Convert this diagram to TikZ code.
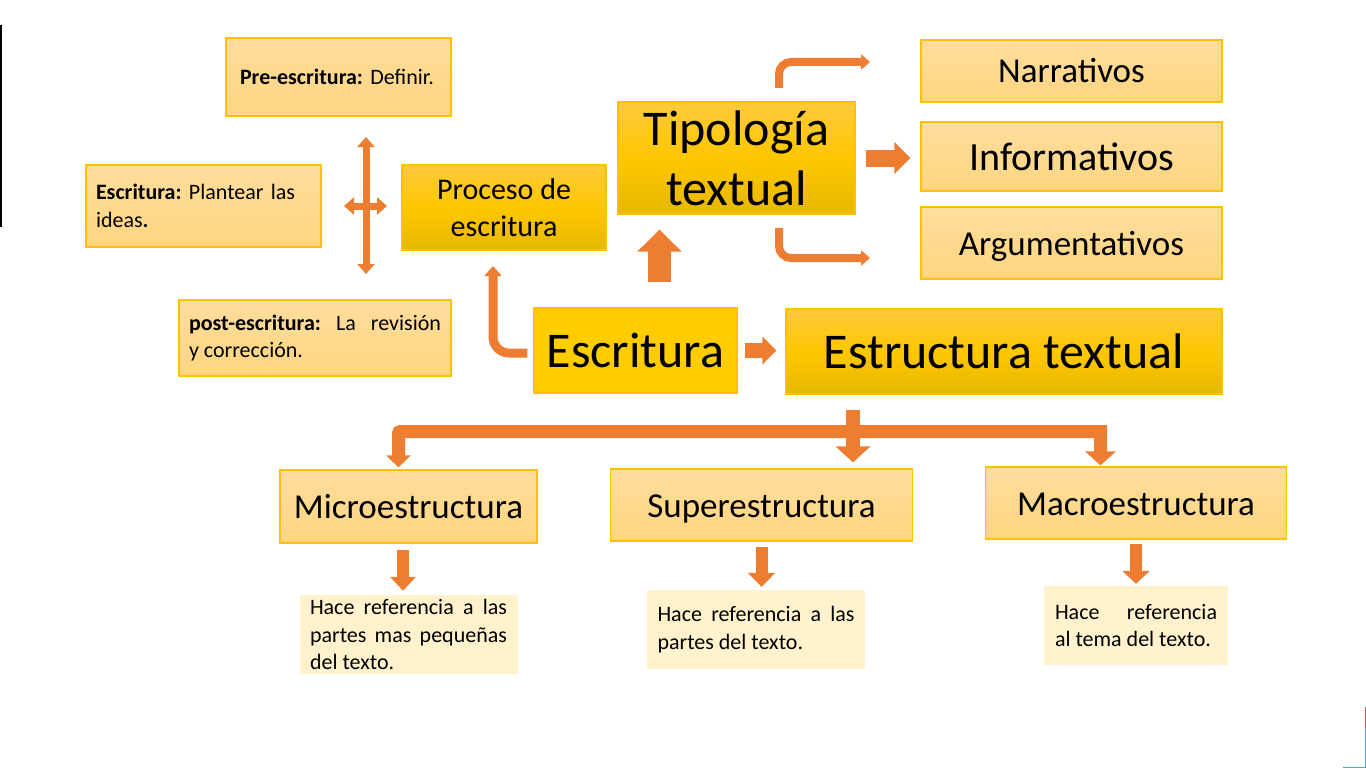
\documentclass[tikz,border=0pt]{standalone}
\usepackage{fontspec}
\setmainfont{Carlito}
\usetikzlibrary{arrows.meta}

\definecolor{naranja}{HTML}{ED7D31}
\definecolor{oro}{HTML}{FFC000}
\definecolor{claroA}{HTML}{FFDD9E}
\definecolor{claroB}{HTML}{FFD57F}
\definecolor{fuerteA}{HTML}{FFC93D}
\definecolor{fuerteB}{HTML}{FFC700}
\definecolor{fuerteC}{HTML}{E6B800}
\definecolor{amarillo}{HTML}{FFCC00}
\definecolor{crema}{HTML}{FFF2CC}
\definecolor{turquesa}{HTML}{4BACC6}
\definecolor{rojizo}{HTML}{C0504D}

\frenchspacing
\newcommand\tnota{\fontsize{22pt}{27.7pt}\selectfont\frenchspacing}
\newcommand\tproceso{\fontsize{30pt}{37pt}\selectfont}
\newcommand\tcaja{\fontsize{35pt}{40pt}\selectfont}
\newcommand\tinfo{\fontsize{40pt}{46pt}\selectfont}
\newcommand\tgrande{\fontsize{50pt}{60pt}\selectfont}

\begin{document}
\begin{tikzpicture}[x=1pt,y=-1pt,
  claro/.style={draw=oro,line width=1.2pt,top color=claroA,bottom color=claroB,inner sep=0pt},
  fuerte/.style={draw=oro,line width=1.2pt,top color=fuerteA,bottom color=fuerteC,middle color=fuerteB,inner sep=0pt},
  caja/.style={font=\tcaja,text height=28pt,text depth=4pt},
  grande/.style={font=\tgrande,text height=40pt,text depth=6pt},
  nota/.style={fill=crema,inner sep=0pt,font=\tnota,align=justify},
  bloque/.style n args={3}{draw=naranja,line width=#1,-{Triangle[length=#2,width=#3]}},
  curva/.style={draw=naranja,line width=8pt,rounded corners=12pt,-{Triangle[length=9pt,width=15pt]}},
  doble/.style={draw=naranja,line width=7pt,{Triangle[length=10pt,width=17pt]}-{Triangle[length=10pt,width=17pt]}}]
  \useasboundingbox (0,0) rectangle (1366,768);

  % bordes de la captura
  \draw[line width=2pt] (1,25) -- (1,227);
  \draw[rojizo,line width=1pt] (1365,707) -- (1365,728);
  \draw[turquesa,line width=1pt] (1365,728) -- (1365,767.5) -- (1343,767.5);

  % proceso de escritura
  \node[claro,minimum width=225pt,minimum height=78pt,inner xsep=14pt,text width=197pt,align=left,font=\tnota] (pre) at (338.5,77) {\textbf{Pre-escritura:} Definir.};
  \node[claro,minimum width=235pt,minimum height=82pt,inner xsep=10pt,text width=215pt,align=left,font=\tnota] (escl) at (203.5,206) {\textbf{Escritura:} Plantear las\\ ideas\textbf{.}};
  \node[claro,minimum width=272pt,minimum height=76pt,inner xsep=10pt,text width=252pt,align=justify,font=\tnota] (post) at (315,338) {\textbf{post-escritura:} La revisión\linebreak y corrección.};
  \node[fuerte,minimum width=204pt,minimum height=85pt,align=center,font=\tproceso] (proceso) at (504,207.5) {Proceso de\\ escritura};

  \coordinate (cruzN) at (366,137);
  \coordinate (cruzS) at (366,274);
  \coordinate (cruzO) at (344,206);
  \coordinate (cruzE) at (387,206);
  \draw[doble] (cruzN) -- (cruzS);
  \draw[doble] (cruzO) -- (cruzE);

  % tipologia
  \node[fuerte,minimum width=237pt,minimum height=112pt,align=center,font=\tgrande] (tipo) at (736.5,158) {Tipología\\ textual};
  \node[claro,caja,minimum width=301pt,minimum height=62pt] (narr) at (1071.5,71) {Narrativos};
  \node[claro,minimum width=301pt,minimum height=69pt,font=\tinfo,text height=32pt,text depth=5pt] (info) at (1071.5,156.5) {Informativos};
  \node[claro,caja,minimum width=301pt,minimum height=72pt] (argu) at (1071.5,243) {Argumentativos};

  \coordinate (tiposup) at (779,88);
  \coordinate (narrin) at (870,62);
  \coordinate (tipoinf) at (779,228);
  \coordinate (arguin) at (870,258);
  \draw[curva] (tiposup) |- (narrin);
  \draw[curva] (tipoinf) |- (arguin);
  \draw[bloque={17pt}{16pt}{31pt},shorten <=10pt,shorten >=10pt] (tipo.east) -- (tipo.east -| info.west);

  % escritura
  \node[draw=oro,line width=1.2pt,fill=amarillo,grande,minimum width=203pt,minimum height=85pt] (escr) at (635.5,350.5) {Escritura};
  \node[fuerte,grande,minimum width=436pt,minimum height=85pt] (estr) at (1004,351.5) {Estructura textual};

  \coordinate (procin) at (493,266);
  \draw[draw=naranja,line width=9pt,rounded corners=16pt,-{Triangle[length=10pt,width=17pt]}] ([xshift=-6pt,yshift=-2.5pt]escr.west) -| (procin);
  \coordinate (subeA) at (659.5,282);
  \draw[bloque={23pt}{22pt}{43pt},shorten >=15pt] (subeA) -- (subeA |- tipo.south);
  \draw[bloque={15pt}{14pt}{27pt},shorten <=7pt,shorten >=9pt] (escr.east) -- (escr.east -| estr.west);

  % estructuras
  \node[claro,caja,minimum width=257pt,minimum height=73pt] (micro) at (408.5,506.5) {Microestructura};
  \node[claro,caja,minimum width=302pt,minimum height=72pt] (super) at (761.5,505) {Superestructura};
  \node[claro,caja,minimum width=301pt,minimum height=72pt] (macro) at (1136,503) {Macroestructura};

  \coordinate (izq) at (398.5,431.5);
  \coordinate (der) at (1107,431.5);
  \coordinate (derbaja) at (1100.5,425);
  \coordinate (centro) at (853,410);
  \draw[bloque={13pt}{12pt}{24pt},rounded corners=2pt,shorten >=2pt] (der) -- (izq) -- (izq |- micro.north);
  \draw[bloque={13pt}{14pt}{30pt},shorten >=1pt] (derbaja) -- (derbaja |- macro.north);
  \draw[bloque={14pt}{16pt}{34pt},shorten >=6pt] (centro) -- (centro |- super.north);

  % notas
  \node[nota,minimum width=218pt,minimum height=79pt,inner xsep=10.5pt,text width=197pt] (microd) at (408.5,634.5) {Hace referencia a las\linebreak partes mas pequeñas\linebreak del texto.};
  \node[nota,minimum width=218pt,minimum height=79pt,inner xsep=10.5pt,text width=197pt] (superd) at (756,629.5) {Hace referencia a las\linebreak partes del texto.};
  \node[nota,minimum width=184pt,minimum height=79pt,inner xsep=11pt,text width=162pt] (macrod) at (1136,625.5) {Hace referencia\linebreak al tema del texto.};

  \draw[bloque={12pt}{14pt}{25pt},shorten <=6pt,shorten >=4pt] ([xshift=-5.5pt]micro.south) -- ([xshift=-5.5pt]microd.north);
  \draw[bloque={12pt}{14pt}{27pt},shorten <=5pt,shorten >=3pt] (super.south) -- (super.south |- superd.north);
  \draw[bloque={12pt}{13pt}{27pt},shorten <=4pt,shorten >=2pt] (macro.south) -- (macrod.north);
\end{tikzpicture}
\end{document}
